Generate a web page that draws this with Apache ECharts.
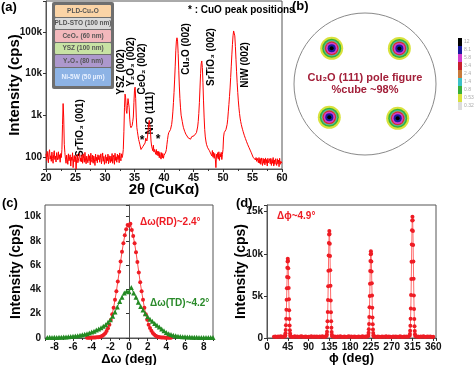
<!DOCTYPE html>
<html><head><meta charset="utf-8">
<script src="https://cdn.jsdelivr.net/npm/echarts@6/dist/echarts.min.js"></script>
<style>html,body{margin:0;padding:0;background:#fff}#c{width:474px;height:365px}</style>
</head><body><div id="c"></div>
<script>
// ---------- (a) XRD theta-2theta scan, counts at 0.1 deg steps, one row per degree (20..59) ----------
const xrdRows = [
 [118,82,135,95,72,124,148,88,106,78],
 [130,92,70,115,140,86,104,75,126,98],
 [84,132,90,112,74,120,96,150,600,1900],
 [900,200,125,88,70,110,84,66,118,80],
 [74,112,60,98,82,125,55,90,108,76],
 [102,50,88,115,72,66,100,120,78,94],
 [76,110,70,118,90,74,128,84,68,104],
 [96,72,114,80,106,64,122,86,74,110],
 [70,104,88,62,116,80,98,72,112,86],
 [108,74,94,118,68,90,124,78,102,66],
 [88,112,70,98,80,116,68,106,84,72],
 [104,78,120,70,96,110,66,122,82,100],
 [74,116,86,108,72,124,92,80,118,96],
 [110,150,400,1500,3200,2600,1300,1100,1700,2500],
 [2300,1500,800,560,500,520,560,700,900,2000],
 [4000,4700,2500,900,500,400,320,260,230,200],
 [190,150,165,145,175,160,185,170,215,280],
 [260,240,300,420,620,750,700,420,240,180],
 [175,140,190,130,150,165,115,150,110,135],
 [105,135,95,128,100,88,126,94,120,92],
 [108,115,120,130,150,200,260,330,380,420],
 [420,450,500,600,800,1200,2000,3500,7000,15000],
 [35000,60000,72000,60000,30000,12000,5000,2500,1500,1000],
 [900,700,580,500,450,410,380,350,330,320],
 [320,285,310,270,300,265,290,305,275,310],
 [290,320,300,335,330,380,420,520,700,1100],
 [2000,4500,10000,17000,20000,14000,6000,2200,900,450],
 [300,240,200,180,165,155,150,140,135,130],
 [135,105,142,98,128,92,120,88,55,115],
 [96,126,88,132,82,118,100,128,86,114],
 [150,300,380,400,420,450,500,600,800,1200],
 [1800,2800,4500,8000,15000,28000,50000,80000,105000,108000],
 [80000,45000,22000,11000,6000,3500,2200,1500,1100,850],
 [700,600,520,460,410,370,330,300,275,250],
 [230,210,195,180,168,155,145,135,125,118],
 [118,98,106,88,100,84,96,78,92,82],
 [72,96,70,90,66,94,76,62,92,70],
 [88,64,94,70,86,60,92,72,66,90],
 [68,92,62,86,70,96,60,84,66,90],
 [74,62,90,68,84,58,92,66,78,86]
];
const xrdLast = 70; // at 60.0 deg
const xrdTicksY = {100:'100',1000:'1k',10000:'10k',100000:'100k'};
const peakNames = ['SrTiO₃ (001)','YSZ (002)','Y₂O₃ (002)','CeO₂ (002)','NiO (111)','Cu₂O (002)','SrTiO₃ (002)','NiW (002)'];
const layerNames = ['PLD-Cu₂O','PLD-STO (100 nm)','CeO₂ (60 nm)','YSZ (100 nm)','Y₂O₃ (80 nm)','Ni-5W (50 µm)'];

// ---------- (b) pole figure ----------
const polePsi = [62.7, 61.9, 61.9, 60.1];
const polePhi = [46, 133, 223, 313.6];
const poleLevels = [2,3,4,5,6,7,8,9];
const colorbarLabels = ['0.32','0.53','0.8','1.4','2.4','3.4','5.8','8.1','12'];

// ---------- (c) rocking curves ----------
const rdCounts = [20,25,30,22,35,40,45,55,70,90,125,180,270,400,570,800,1100,1480,1950,2500,3150,3850,4650,5450,6300,7100,7800,8450,8950,9300,
 9250,9400,8900,8400,7800,7050,6250,5400,4600,3850,3150,2500,1950,1500,1100,820,590,410,285,190,130,90,65,50,40,35,30,25,30,22,20]; // omega -4.5..4.5 step 0.15
const tdCounts = [40,55,45,60,50,70,65,80,90,100,120,140,160,190,220,260,300,350,420,500,560,650,740,840,960,1100,1300,1500,1800,2150,2550,3000,3350,3700,3850,
 3800,4150,3700,3350,2950,2600,2300,2000,1750,1550,1380,1200,1050,900,750,600,450,350,280,220,180,150,130,110,100,85,80,70,60,55,50,45,50,40,45,40,35]; // omega -8.75..9 step 0.25

// ---------- (d) phi scan ----------
const phiPeakOffsets = [-6,-5.5,-5,-4.5,-4,-3.5,-3,-2.5,-2,-1.5,-1,-0.5,0,0.5,1,1.5,2,2.5,3,3.5,4,4.5,5,5.5,6];
const phiPeakCenters = [45,135,225,315];
const phiPeakCounts = [
 [180,320,560,950,1500,2300,3350,4550,5900,7250,8350,9100,9400,9150,8300,7200,5950,4600,3300,2250,1480,920,540,300,170],
 [230,420,740,1250,2000,3100,4500,6150,8000,9800,11300,12300,12700,12350,11200,9750,8050,6200,4450,3050,2000,1230,720,400,220],
 [200,350,610,1040,1650,2500,3650,5000,6450,7950,9150,9950,10300,10000,9100,7900,6500,5050,3600,2450,1620,1000,590,330,190],
 [260,480,850,1450,2300,3500,5100,7000,9050,11100,12800,13950,14400,14000,12700,11050,9100,7050,5050,3450,2250,1400,830,460,250]
];
const phiBaseStarts = [15,54,144,234,324]; // baseline segments, 3 deg steps
const phiBaseCounts = [
 [140,190,120,170,150,210,130,180],
 [160,120,200,140,180,110,170,220,130,150,190,120,160,140,210,130,170,150,190,110,180,140,200,130,160],
 [150,190,120,170,140,200,130,160,180,120,150,210,140,170,130,190,150,120,180,160,140,200,130,170,150],
 [170,130,190,150,120,180,160,140,200,130,170,150,110,190,140,180,160,130,200,150,120,170,140,190,160],
 [150,180,130,170,140,200,120,160,190,140,170,130,150]
];

// ---------- build series data ----------
const xrdData = [];
xrdRows.forEach((row, d) => row.forEach((v, i) => xrdData.push([+(20 + d + i * 0.1).toFixed(1), v])));
xrdData.push([60, xrdLast]);
const rdData = rdCounts.map((v, i) => [+(-4.5 + i * 0.15).toFixed(2), v]);
const tdData = tdCounts.map((v, i) => [-8.75 + i * 0.25, v]);
let phiData = [];
phiBaseStarts.forEach((s, k) => phiBaseCounts[k].forEach((v, i) => phiData.push([s + 3 * i, v])));
phiPeakCenters.forEach((c, k) => phiPeakCounts[k].forEach((v, i) => phiData.push([c + phiPeakOffsets[i], v])));
phiData.sort((a, b) => a[0] - b[0]);
const poleData = [];
poleLevels.forEach(l => polePsi.forEach((p, i) => poleData.push([p, polePhi[i], l])));

// ---------- styles ----------
const FF = '"Liberation Sans", Arial, sans-serif';
const frameColor = '#555';
const lab = {fontFamily: FF, fontWeight: 'bold', fontSize: 10, color: '#111', margin: 4};
const axisLine = {show: true, lineStyle: {color: frameColor, width: 1}};
const axisTick = {show: true, length: 3, lineStyle: {color: '#333'}};
const nameStyle = (s) => ({fontFamily: FF, fontWeight: 'bold', fontSize: s, color: '#000'});
const poleSizes = {2: 23, 3: 19, 4: 16, 5: 14.5, 6: 13, 7: 11.5, 8: 8, 9: 4};
const levelColors = ['#dcdcdc','#d9e23c','#38b038','#3cc0c8','#c87a3a','#c8202c','#d23ccd','#1a1aa0','#000000'];

const chart = echarts.init(document.getElementById('c'), null, {renderer: 'canvas'});
const gridBase = {show: true, borderColor: frameColor, borderWidth: 1, containLabel: false, outerBoundsMode: 'none'};

const peakLabelPos = [[80,128],[121,72],[131,62],[142,69],[150,113],[186,49],[211,57],[245,65]];
const layerFill = ['#fbd4a6','#dadada','#f3b8bc','#c8e3a4','#ad98cd','#8db3e5'];
const layerY = [[5,12],[18,11],[30,12],[43,11],[55,12],[68,18]];

const graphics = [
 {type:'text', x:1, y:1, style:{text:'(a)', font:'bold 13px ' + FF, fill:'#000'}},
 {type:'text', x:292, y:0, style:{text:'(b)', font:'bold 13px ' + FF, fill:'#000'}},
 {type:'text', x:2, y:197, style:{text:'(c)', font:'bold 13px ' + FF, fill:'#000'}},
 {type:'text', x:236, y:197, style:{text:'(d)', font:'bold 13px ' + FF, fill:'#000'}},
 {type:'text', x:188, y:10, style:{text:'* : CuO peak positions', font:'bold 10px ' + FF, fill:'#000', verticalAlign:'middle', textVerticalAlign:'middle'}},
 {type:'text', x:142, y:141, style:{text:'*', font:'bold 12px ' + FF, fill:'#000', align:'center', textAlign:'center', verticalAlign:'middle', textVerticalAlign:'middle'}},
 {type:'text', x:158, y:140, style:{text:'*', font:'bold 12px ' + FF, fill:'#000', align:'center', textAlign:'center', verticalAlign:'middle', textVerticalAlign:'middle'}},
 {type:'text', x:365, y:78, style:{text:'Cu₂O (111) pole figure', font:'bold 11px ' + FF, fill:'#a3203a', align:'center', textAlign:'center', verticalAlign:'middle', textVerticalAlign:'middle'}},
 {type:'text', x:365, y:90, style:{text:'%cube ~98%', font:'bold 11px ' + FF, fill:'#a3203a', align:'center', textAlign:'center', verticalAlign:'middle', textVerticalAlign:'middle'}},
 {type:'text', x:140, y:222, style:{text:'Δω(RD)~2.4°', font:'bold 10px ' + FF, fill:'#ee1c24', verticalAlign:'middle', textVerticalAlign:'middle'}},
 {type:'text', x:150, y:303, style:{text:'Δω(TD)~4.2°', font:'bold 10px ' + FF, fill:'#2a8a2a', verticalAlign:'middle', textVerticalAlign:'middle'}},
 {type:'text', x:277, y:216, style:{text:'Δϕ~4.9°', font:'bold 10px ' + FF, fill:'#ee1c24', verticalAlign:'middle', textVerticalAlign:'middle'}},
 {type:'rect', shape:{x:52, y:2, width:62, height:87, r:2}, style:{fill:'#6f6f6f'}, z:100}
];
peakNames.forEach((t, i) => graphics.push({type:'text', x:peakLabelPos[i][0], y:peakLabelPos[i][1], rotation:Math.PI/2,
  style:{text:t, font:'bold 10px ' + FF, fill:'#000', align:'center', textAlign:'center', verticalAlign:'middle', textVerticalAlign:'middle'}}));
layerNames.forEach((t, i) => {
  graphics.push({type:'rect', z:101, shape:{x:55, y:layerY[i][0], width:56, height:layerY[i][1], r:1}, style:{fill:layerFill[i]}});
  graphics.push({type:'text', z:102, x:83, y:layerY[i][0] + layerY[i][1]/2, style:{text:t, font:'bold 6.5px ' + FF, fill: i === 5 ? '#e9f1ff' : '#555', align:'center', textAlign:'center', verticalAlign:'middle', textVerticalAlign:'middle'}});
});

const option = {
  animation: false,
  backgroundColor: '#fff',
  textStyle: {fontFamily: FF},
  grid: [
    Object.assign({left: 46, top: 1, width: 236, height: 168}, gridBase),
    Object.assign({left: 45, top: 205, width: 168, height: 133}, gridBase),
    Object.assign({left: 267, top: 205, width: 169, height: 133}, gridBase)
  ],
  polar: {center: [365, 84], radius: 71},
  angleAxis: {type: 'value', min: 0, max: 360, startAngle: 0, clockwise: false,
    axisLine: {show: true, lineStyle: {color: '#8a8a8a', width: 1}}, axisTick: {show: false}, axisLabel: {show: false}, splitLine: {show: false}},
  radiusAxis: {type: 'value', min: 0, max: 90, axisLine: {show: false}, axisTick: {show: false}, axisLabel: {show: false}, splitLine: {show: false}},
  xAxis: [
    {gridIndex: 0, type: 'value', min: 20, max: 60, interval: 5, axisLine, axisTick, minorTick: {show: true, splitNumber: 2, length: 2, lineStyle: {color: '#333'}},
     axisLabel: lab, splitLine: {show: false}, name: '2θ (CuKα)', nameLocation: 'middle', nameGap: 13, nameMoveOverlap: false, nameTextStyle: nameStyle(15)},
    {gridIndex: 1, type: 'value', min: -9, max: 9, splitNumber: 9, axisLine, axisTick, minorTick: {show: true, splitNumber: 2, length: 2, lineStyle: {color: '#333'}},
     axisLabel: Object.assign({}, lab, {formatter: v => (Number.isInteger(v) && v % 2 === 0) ? String(v) : ''}), splitLine: {show: false},
     name: 'Δω (deg)', nameLocation: 'middle', nameGap: 15, nameMoveOverlap: false, nameTextStyle: nameStyle(13)},
    {gridIndex: 2, type: 'value', min: 0, max: 366, interval: 45, axisLine, axisTick,
     axisLabel: Object.assign({}, lab, {formatter: v => v % 45 === 0 ? String(v) : ''}), splitLine: {show: false},
     name: 'ϕ (deg)', nameLocation: 'middle', nameGap: 14, nameMoveOverlap: false, nameTextStyle: nameStyle(13)}
  ],
  yAxis: [
    {gridIndex: 0, type: 'log', logBase: 10, min: 51, max: 550000, axisLine, axisTick, splitLine: {show: false},
     axisLabel: Object.assign({}, lab, {formatter: v => xrdTicksY[Math.round(v)] || ''}),
     name: 'Intensity (cps)', nameLocation: 'middle', nameGap: 24, nameMoveOverlap: false, nameTextStyle: nameStyle(15)},
    {gridIndex: 1, type: 'value', min: 0, max: 10950, interval: 2000, axisLine, axisTick, splitLine: {show: false},
     axisLabel: Object.assign({}, lab, {formatter: v => v === 0 ? '0' : (v % 2000 === 0 ? (v / 1000) + 'k' : '')}),
     name: 'Intensity (cps)', nameLocation: 'middle', nameGap: 22, nameMoveOverlap: false, nameTextStyle: nameStyle(14)},
    {gridIndex: 2, type: 'value', min: 0, max: 15800, interval: 5000, axisLine, axisTick, splitLine: {show: false},
     axisLabel: Object.assign({}, lab, {formatter: v => v === 0 ? '0' : (v % 5000 === 0 ? (v / 1000) + 'k' : '')}),
     name: 'Intensity (cps)', nameLocation: 'middle', nameGap: 19, nameMoveOverlap: false, nameTextStyle: nameStyle(14)}
  ],
  visualMap: {
    type: 'piecewise', seriesIndex: 4, dimension: 2, orient: 'vertical', left: 458, top: 38, padding: 0,
    itemWidth: 4, itemHeight: 8, itemGap: 0, itemSymbol: 'rect', align: 'left', textGap: 2,
    textStyle: {fontSize: 5, color: '#aaa', fontFamily: FF},
    pieces: levelColors.map((c, i) => ({value: i + 1, color: c, label: colorbarLabels[i]}))
  },
  graphic: graphics,
  series: [
    {type: 'line', xAxisIndex: 0, yAxisIndex: 0, data: xrdData, showSymbol: false, lineStyle: {color: '#ff0000', width: 1}, z: 3},
    {type: 'line', xAxisIndex: 1, yAxisIndex: 1, data: rdData, symbol: 'circle', symbolSize: 4,
     itemStyle: {color: '#ee1c24'}, lineStyle: {color: '#ff4a4a', width: 1}, z: 3},
    {type: 'line', xAxisIndex: 1, yAxisIndex: 1, data: tdData, symbol: 'triangle', symbolSize: 5,
     itemStyle: {color: '#238a23'}, lineStyle: {color: '#3a9a3a', width: 1}, z: 4},
    {type: 'line', xAxisIndex: 2, yAxisIndex: 2, data: phiData, symbol: 'circle', symbolSize: 4,
     itemStyle: {color: '#ee1c24'}, lineStyle: {color: '#ff6a6a', width: 1}, z: 3},
    {type: 'scatter', coordinateSystem: 'polar', data: poleData, symbol: 'circle',
     symbolSize: d => poleSizes[d[2]], itemStyle: {opacity: 1}, z: 3}
  ]
};
chart.setOption(option);
</script></body></html>
